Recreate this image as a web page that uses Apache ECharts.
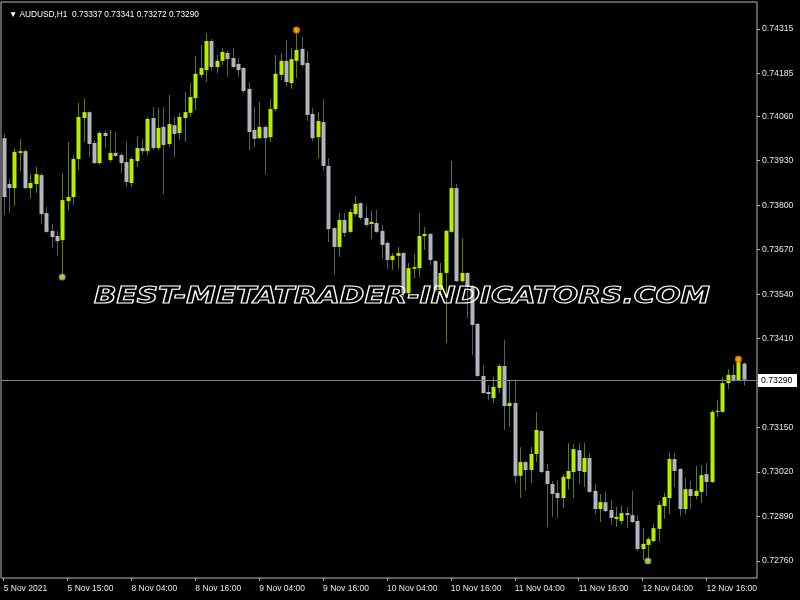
<!DOCTYPE html>
<html><head><meta charset="utf-8">
<script src="https://cdn.jsdelivr.net/npm/echarts@6/dist/echarts.min.js"></script>
<style>html,body{margin:0;padding:0;background:#000;}#c{width:800px;height:600px;}</style>
</head><body><div id="c"></div>
<script>
var timeLabels = ['5 Nov 2021','5 Nov 15:00','8 Nov 04:00','8 Nov 16:00','9 Nov 04:00','9 Nov 16:00','10 Nov 04:00','10 Nov 16:00','11 Nov 04:00','11 Nov 16:00','12 Nov 04:00','12 Nov 16:00'];
var priceTicks = [0.72760,0.72890,0.73020,0.73150,0.73280,0.73410,0.73540,0.73670,0.73800,0.73930,0.74060,0.74185,0.74315];
var openV = [0.73996,0.73862,0.73850,0.73953,0.73958,0.73850,0.73862,0.73888,0.73777,0.73725,0.73710,0.73698,0.73812,0.73824,0.73935,0.74055,0.74072,0.73982,0.73923,0.74011,
0.73932,0.73953,0.73947,0.73926,0.73865,0.73929,0.73967,0.73958,0.74055,0.73967,0.74029,0.73979,0.74034,0.74011,0.74055,0.74070,0.74113,0.74181,0.74195,0.74280,
0.74204,0.74222,0.74245,0.74230,0.74213,0.74201,0.74140,0.74020,0.73996,0.74029,0.73999,0.74081,0.74181,0.74222,0.74157,0.74222,0.74257,0.74216,0.74067,0.73999,
0.74043,0.73915,0.73733,0.73678,0.73757,0.73722,0.73774,0.73806,0.73763,0.73745,0.73748,0.73725,0.73690,0.73640,0.73652,0.73660,0.73543,0.73614,0.73616,0.73710,
0.73716,0.73637,0.73552,0.73602,0.73722,0.73850,0.73578,0.73602,0.73561,0.73453,0.73301,0.73254,0.73236,0.73266,0.73330,0.73213,0.73222,0.73009,0.73049,0.73026,
0.73073,0.73140,0.73023,0.72985,0.72959,0.72944,0.73000,0.73020,0.73084,0.73020,0.73061,0.72965,0.72912,0.72932,0.72909,0.72883,0.72877,0.72900,0.72894,0.72877,
0.72795,0.72807,0.72818,0.72854,0.72921,0.72944,0.73058,0.73029,0.72912,0.72970,0.72950,0.72962,0.73014,0.72991,0.73198,0.73196,0.73280,0.73304,0.73289,0.73337];
var highV = [0.74008,0.73877,0.73967,0.73994,0.73964,0.73891,0.73912,0.73894,0.73795,0.73745,0.73725,0.73894,0.73985,0.73947,0.74099,0.74113,0.74075,0.73991,0.74017,0.74020,
0.74020,0.74014,0.73953,0.73985,0.73941,0.74002,0.73994,0.74058,0.74087,0.74084,0.74087,0.74122,0.74058,0.74070,0.74131,0.74157,0.74236,0.74268,0.74303,0.74286,
0.74239,0.74260,0.74251,0.74260,0.74230,0.74204,0.74160,0.74087,0.74102,0.74034,0.74110,0.74239,0.74245,0.74283,0.74260,0.74312,0.74292,0.74251,0.74084,0.74072,
0.74110,0.73938,0.73736,0.73777,0.73777,0.73789,0.73827,0.73809,0.73798,0.73783,0.73786,0.73742,0.73695,0.73660,0.73678,0.73663,0.73631,0.73657,0.73777,0.73736,
0.73719,0.73640,0.73631,0.73728,0.73929,0.73862,0.73704,0.73605,0.73567,0.73456,0.73333,0.73274,0.73298,0.73336,0.73406,0.73286,0.73286,0.73093,0.73052,0.73093,
0.73196,0.73143,0.73044,0.72994,0.72997,0.73014,0.73105,0.73102,0.73105,0.73105,0.73076,0.72985,0.72956,0.72962,0.72938,0.72918,0.72921,0.72918,0.72965,0.72894,
0.72856,0.72830,0.72868,0.72935,0.72959,0.73076,0.73076,0.73032,0.73003,0.72994,0.73038,0.73041,0.73046,0.73201,0.73231,0.73298,0.73321,0.73333,0.73350,0.73341];
var lowV = [0.73771,0.73777,0.73798,0.73900,0.73847,0.73821,0.73836,0.73745,0.73719,0.73675,0.73652,0.73590,0.73786,0.73801,0.73903,0.73985,0.73941,0.73920,0.73918,0.73967,
0.73926,0.73941,0.73894,0.73853,0.73853,0.73912,0.73947,0.73947,0.73961,0.73961,0.73833,0.73970,0.73941,0.73991,0.73985,0.74058,0.74078,0.74172,0.74160,0.74192,
0.74186,0.74210,0.74175,0.74201,0.74175,0.74128,0.73961,0.73970,0.73994,0.73891,0.73985,0.74075,0.74166,0.74148,0.74140,0.74172,0.74204,0.74046,0.73988,0.73938,
0.73900,0.73692,0.73596,0.73649,0.73707,0.73719,0.73766,0.73757,0.73736,0.73701,0.73719,0.73643,0.73614,0.73611,0.73614,0.73532,0.73532,0.73587,0.73590,0.73669,
0.73625,0.73546,0.73546,0.73397,0.73719,0.73576,0.73573,0.73470,0.73362,0.73298,0.73248,0.73231,0.73222,0.73251,0.73143,0.73152,0.72988,0.72944,0.72965,0.72988,
0.73049,0.73017,0.72859,0.72889,0.72886,0.72915,0.72970,0.72944,0.72985,0.72976,0.72959,0.72897,0.72874,0.72903,0.72865,0.72859,0.72868,0.72856,0.72871,0.72789,
0.72763,0.72760,0.72816,0.72816,0.72883,0.72897,0.72976,0.72892,0.72897,0.72912,0.72941,0.72930,0.72950,0.72988,0.73181,0.73193,0.73263,0.73283,0.73286,0.73272];
var closeV = [0.73824,0.73850,0.73956,0.73958,0.73850,0.73865,0.73891,0.73774,0.73722,0.73707,0.73695,0.73815,0.73824,0.73935,0.74058,0.74072,0.73979,0.73923,0.74011,0.74002,
0.73953,0.73944,0.73923,0.73868,0.73935,0.73967,0.73958,0.74052,0.73967,0.74026,0.73976,0.74037,0.74008,0.74058,0.74072,0.74116,0.74184,0.74201,0.74280,0.74204,
0.74222,0.74248,0.74227,0.74204,0.74195,0.74134,0.74014,0.73994,0.74029,0.73996,0.74081,0.74184,0.74222,0.74160,0.74227,0.74254,0.74210,0.74064,0.73996,0.74046,
0.73915,0.73730,0.73678,0.73757,0.73719,0.73780,0.73804,0.73763,0.73742,0.73751,0.73722,0.73684,0.73640,0.73652,0.73660,0.73543,0.73616,0.73619,0.73710,0.73716,
0.73640,0.73552,0.73602,0.73725,0.73850,0.73578,0.73602,0.73561,0.73450,0.73301,0.73251,0.73248,0.73269,0.73330,0.73213,0.73222,0.73009,0.73049,0.73026,0.73073,
0.73143,0.73020,0.72985,0.72956,0.72944,0.73006,0.73023,0.73087,0.73023,0.73061,0.72962,0.72912,0.72932,0.72906,0.72886,0.72889,0.72900,0.72894,0.72874,0.72795,
0.72810,0.72824,0.72856,0.72924,0.72947,0.73058,0.73023,0.72912,0.72970,0.72950,0.72965,0.73011,0.72991,0.73196,0.73199,0.73280,0.73304,0.73286,0.73342,0.73290];
var swingHighs = [[55,0.74312],[138,0.73350]];
var swingLows = [[11,0.73590],[121,0.72760]];
var bidPrice = 0.73290;
var headerText = '\u25BC AUDUSD,H1  0.73337 0.73341 0.73272 0.73290';
var watermark = 'BEST-METATRADER-INDICATORS.COM';

var N = openV.length;
var cats = [];
for (var i = 0; i < N + 2; i++) cats.push(String(i));
var candleData = [];
for (var j = 0; j < N; j++) candleData.push([j, openV[j], closeV[j], lowV[j], highV[j]]);

var BULL = '#b6ee00', BEAR = '#b4b4bc', BULLW = '#5f7d00', BEARW = '#5a5a60';
var FONT = '"Liberation Sans", Arial, sans-serif';

var chart = echarts.init(document.getElementById('c'));
chart.setOption({
  backgroundColor: '#000',
  animation: false,
  title: {
    text: headerText, left: 4, top: 6,
    textStyle: {color: '#ffffff', fontSize: 8.3, fontWeight: 'normal', fontFamily: FONT}
  },
  grid: {left: 1, right: 43, top: 2, bottom: 22, show: true, borderColor: '#b8b8b8', borderWidth: 1, backgroundColor: 'transparent'},
  xAxis: {
    type: 'category', data: cats, boundaryGap: true,
    axisLine: {show: false},
    axisTick: {show: true, alignWithLabel: true, length: 3, lineStyle: {color: '#b8b8b8'},
      interval: function (idx) { return idx % 12 === 0; }},
    axisLabel: {
      interval: function (idx) { return idx % 12 === 0; },
      formatter: function (v, idx) { return idx % 12 === 0 && timeLabels[idx / 12] ? timeLabels[idx / 12] : ''; },
      color: '#e6e6e6', fontSize: 8.5, fontFamily: FONT, align: 'left', margin: 6, showMaxLabel: true, hideOverlap: false
    },
    splitLine: {show: false}
  },
  yAxis: {
    type: 'value', position: 'right', min: 0.727103, max: 0.74394, scale: true,
    axisLine: {show: false},
    axisTick: {show: true, length: 3, lineStyle: {color: '#b8b8b8'}, customValues: priceTicks},
    axisLabel: {customValues: priceTicks, color: '#e6e6e6', fontSize: 8.7, fontFamily: FONT, margin: 5,
      formatter: function (v) { return v.toFixed(5); }},
    splitLine: {show: false}
  },
  graphic: [{
    type: 'text', x: 402, y: 297, scaleX: 1.41, scaleY: 1.08, z: 100,
    style: {text: watermark, textAlign: 'center', textVerticalAlign: 'middle',
      font: 'italic bold 21px "DejaVu Sans", sans-serif', fill: 'rgba(0,0,0,0)', stroke: '#ffffff', lineWidth: 1}
  }],
  series: [{
    type: 'custom', name: 'AUDUSD',
    data: candleData,
    encode: {x: 0, y: [1, 2, 3, 4]},
    clip: true,
    renderItem: function (params, api) {
      var idx = api.value(0), o = api.value(1), c = api.value(2), l = api.value(3), h = api.value(4);
      var pO = api.coord([idx, o]), pC = api.coord([idx, c]), pL = api.coord([idx, l]), pH = api.coord([idx, h]);
      var cx = Math.round(pO[0]);
      var bull = c >= o;
      var top = Math.min(pO[1], pC[1]), bot = Math.max(pO[1], pC[1]);
      if (bot - top < 1) { bot = top + 1; }
      return {type: 'group', children: [
        {type: 'line', shape: {x1: cx + 0.5, y1: pH[1], x2: cx + 0.5, y2: pL[1]},
          style: {stroke: bull ? BULLW : BEARW, lineWidth: 1}},
        {type: 'rect', shape: {x: cx - 1.5, y: top, width: 4, height: bot - top},
          style: {fill: bull ? BULL : BEAR}}
      ]};
    }
  }, {
    type: 'custom', name: 'bid', data: [[0, bidPrice]], encode: {x: 0, y: 1}, clip: false, z: 20, silent: true,
    renderItem: function (params, api) {
      var cs = params.coordSys;
      var y = Math.round(api.coord([0, api.value(1)])[1]) + 0.5;
      var xr = cs.x + cs.width;
      return {type: 'group', children: [
        {type: 'line', shape: {x1: cs.x, y1: y, x2: xr + 2, y2: y}, style: {stroke: '#7a8591', lineWidth: 1}},
        {type: 'rect', shape: {x: xr + 1, y: y - 6.5, width: 39, height: 13}, style: {fill: '#ffffff'}},
        {type: 'text', style: {x: xr + 4, y: y + 0.5, text: api.value(1).toFixed(5), fill: '#000000',
          font: '8.7px "Liberation Sans", Arial, sans-serif', align: 'left', verticalAlign: 'middle',
          textAlign: 'left', textVerticalAlign: 'middle'}}
      ]};
    }
  }, {
    type: 'scatter', data: swingHighs, symbol: 'circle', symbolSize: 6, z: 5,
    itemStyle: {color: '#ffd400', borderColor: '#ff5a00', borderWidth: 1.2}
  }, {
    type: 'scatter', data: swingLows, symbol: 'circle', symbolSize: 6, z: 5,
    itemStyle: {color: '#fff000', borderColor: '#3a9cf0', borderWidth: 1.2}
  }]
});
</script></body></html>
